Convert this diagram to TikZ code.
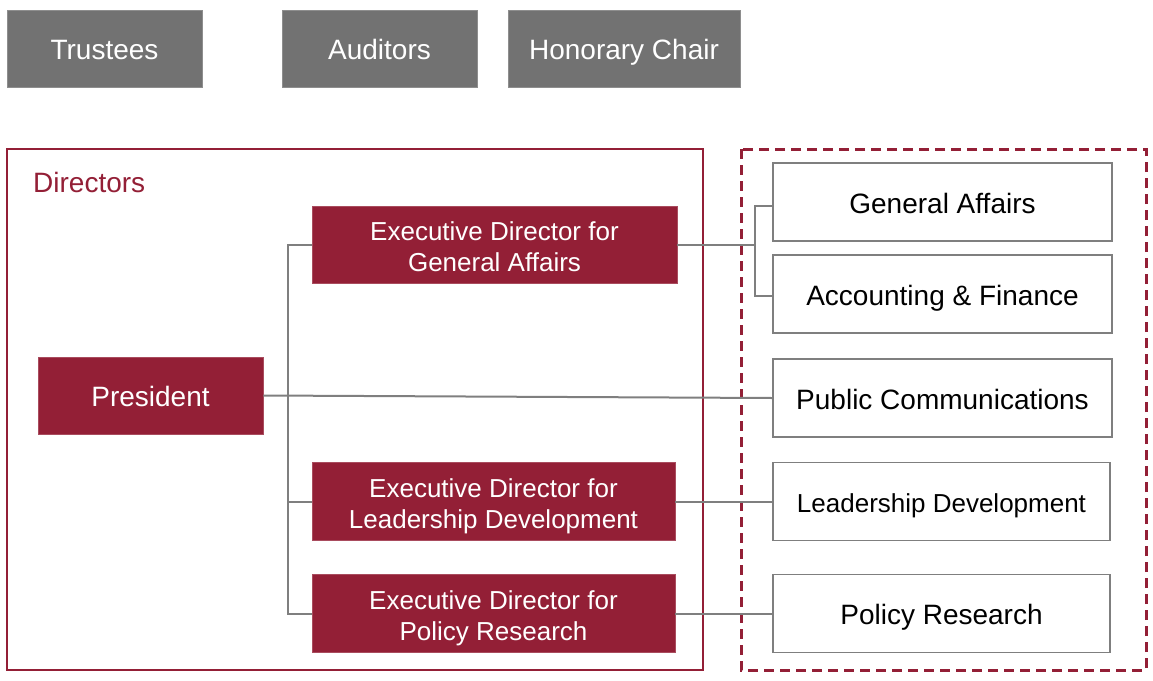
\documentclass[tikz,border=0pt]{standalone}
\usepackage{fontspec}
\setmainfont{Liberation Sans}
\definecolor{dred}{HTML}{931F36}
\definecolor{boxgray}{HTML}{727272}
\definecolor{lgray}{HTML}{7F7F7F}
\begin{document}
\begin{tikzpicture}[x=1pt,y=-1pt,
  oneline/.style={text height=27.5pt,text depth=5pt},
  twoline/.style={text height=58pt,text depth=5pt},
  graybox/.style={fill=boxgray,draw=boxgray!80!white,line width=0.8pt,text=white,inner sep=0pt,
    font=\fontsize{28}{34}\selectfont,oneline},
  redbox/.style={fill=dred,draw=dred!80!white,line width=0.8pt,text=white,inner sep=0pt,align=center,
    font=\fontsize{26}{31}\selectfont},
  whitebox/.style={fill=white,draw=lgray,line width=1.8pt,text=black,inner sep=0pt,
    font=\fontsize{28}{34}\selectfont,oneline},
  conn/.style={draw=lgray,line width=2pt}]
\useasboundingbox (0,0) rectangle (1153,680);
% top grey boxes
\node[graybox,minimum width=195pt,minimum height=77pt] (tr) at (104.5,48.5) {Trustees};
\node[graybox,minimum width=195pt,minimum height=77pt] (au) at (379.5,48.5) {Auditors};
\node[graybox,minimum width=232pt,minimum height=77pt] (hc) at (624,48.5) {Honorary Chair};
% frames
\draw[dred,line width=2.8pt] (7,149) rectangle (703,670);
\draw[dred,line width=3pt,dash pattern=on 10pt off 6pt] (741,149) rectangle (1146,670);
\node[anchor=base west,text=dred,inner sep=0pt,font=\fontsize{28}{34}\selectfont] (dirl) at (33,192) {Directors};
% red boxes
\node[redbox,twoline,minimum width=365pt,minimum height=77pt] (edga) at (494.5,244.5) {Executive Director for\\General Affairs};
\node[redbox,twoline,minimum width=363pt,minimum height=78pt] (edld) at (493.5,501.5) {Executive Director for\\Leadership Development};
\node[redbox,twoline,minimum width=363pt,minimum height=78pt] (edpr) at (493.5,613.5) {Executive Director for\\Policy Research};
\node[redbox,oneline,minimum width=225pt,minimum height=77pt,font=\fontsize{28}{34}\selectfont] (pres) at (150.5,395.5) {President};
% white boxes
\node[whitebox,minimum width=339pt,minimum height=78pt] (ga) at (942.5,202) {General Affairs};
\node[whitebox,minimum width=339pt,minimum height=78pt] (af) at (942.5,294) {Accounting \& Finance};
\node[whitebox,minimum width=339pt,minimum height=78pt] (pc) at (942.5,398) {Public Communications};
\node[whitebox,minimum width=337pt,minimum height=78pt,font=\fontsize{26}{31}\selectfont] (ld) at (941.5,501.5) {Leadership Development};
\node[whitebox,minimum width=337pt,minimum height=78pt] (pr) at (941.5,613.5) {Policy Research};
% connectors
\coordinate (bus) at (288,400);
\coordinate (sp) at (755,245);
\draw[conn] (edga.west) -- (edga.west -| bus) -- (edpr.west -| bus) -- (edpr.west);
\draw[conn] (edld.west) -- (edld.west -| bus);
\draw[conn] (pres.east) -- (pc.west);
\draw[conn] (edga.east) -- (edga.east -| sp);
\draw[conn] ([yshift=-4pt]ga.west) -- ([yshift=-4pt]ga.west -| sp) -- ([yshift=-2pt]af.west -| sp) -- ([yshift=-2pt]af.west);
\draw[conn] (edld.east) -- (ld.west);
\draw[conn] (edpr.east) -- (pr.west);
\end{tikzpicture}
\end{document}
